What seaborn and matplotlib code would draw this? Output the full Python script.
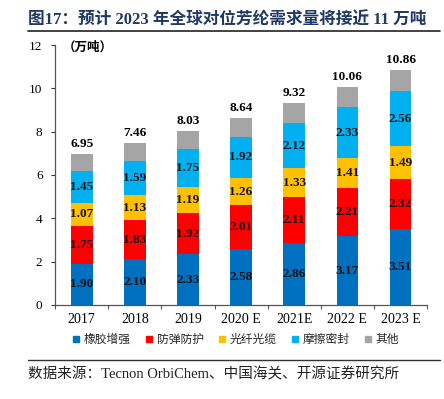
import numpy as np
import pandas as pd
import matplotlib.pyplot as plt
import seaborn as sns
from matplotlib.lines import Line2D
from matplotlib.ticker import FixedLocator

# ── Data ────────────────────────────────────────────────────────────────
years = ['2017', '2018', '2019', '2020 E', '2021E', '2022 E', '2023 E']
rubber = [1.90, 2.10, 2.33, 2.58, 2.86, 3.17, 3.51]      # 橡胶增强
armor = [1.75, 1.83, 1.92, 2.01, 2.11, 2.21, 2.32]       # 防弹防护
fiber = [1.07, 1.13, 1.19, 1.26, 1.33, 1.41, 1.49]       # 光纤光缆
friction = [1.45, 1.59, 1.75, 1.92, 2.12, 2.33, 2.56]    # 摩擦密封
other = [0.78, 0.81, 0.84, 0.87, 0.90, 0.94, 0.98]       # 其他
totals = [6.95, 7.46, 8.03, 8.64, 9.32, 10.06, 10.86]

series_names = ['橡胶增强', '防弹防护', '光纤光缆', '摩擦密封', '其他']
series_vals = [rubber, armor, fiber, friction, other]
COLORS = ['#0070C0', '#FF0000', '#FFC000', '#00B0F0', '#A5A5A5']

# ── Setup ───────────────────────────────────────────────────────────────
sns.set_theme(style='ticks')
plt.rcParams['font.family'] = ['Liberation Serif', 'Noto Sans CJK SC']
plt.rcParams['axes.unicode_minus'] = False

df = pd.DataFrame({'year': years})
for name, vals in zip(series_names, series_vals):
    df[name] = vals
cum = df[series_names].cumsum(axis=1)

fig = plt.figure(figsize=(4.44, 3.99), dpi=100)
ax = fig.add_axes([0.124, 0.236, 0.838, 0.651])

# stacked bars: draw cumulative heights from top layer down
for name, color in reversed(list(zip(series_names, COLORS))):
    sns.barplot(x=df['year'], y=cum[name], color=color, width=0.41,
                saturation=1, linewidth=0, ax=ax)

# segment labels
for i in range(len(years)):
    base = 0
    for name in series_names[:4]:
        v = df[name][i]
        ax.text(i, base + v / 2, f'{v:.2f}', ha='center', va='center',
                fontsize=9.5, fontweight='bold', color='#111111')
        base += v
    ax.annotate(f'{totals[i]:.2f}', (i, cum['其他'][i]), xytext=(0, 3),
                textcoords='offset points', ha='center', va='bottom',
                fontsize=9.5, fontweight='bold', color='black')

ax.set_ylim(0, 12)
ax.set_xlim(-0.5, len(years) - 0.5)
ax.set_yticks(range(0, 13, 2))
ax.set_xlabel('')
ax.set_ylabel('')
ax.tick_params(axis='y', labelsize=9.5, length=3, width=0.8, colors='#333333',
               labelcolor='black', pad=6)
ax.tick_params(axis='x', which='major', length=0, labelsize=10, pad=6,
               labelcolor='black')
ax.xaxis.set_minor_locator(FixedLocator(np.arange(-0.5, len(years), 1)))
ax.tick_params(axis='x', which='minor', length=3, width=0.8, colors='#555555',
               direction='out')
sns.despine(ax=ax)
for s in ['left', 'bottom']:
    ax.spines[s].set_color('#555555')
    ax.spines[s].set_linewidth(0.9)

ax.text(-0.36, 11.9, '（万吨）', ha='left', va='center', fontsize=9,
        fontweight='bold', color='black')

# legend
handles = [Line2D([0], [0], marker='s', linestyle='', markersize=5,
                  markerfacecolor=c, markeredgecolor=c) for c in COLORS]
fig.legend(handles, series_names, loc='center', ncol=5,
           bbox_to_anchor=(0.53, 0.148), frameon=False, fontsize=8.5,
           handletextpad=0.2, columnspacing=1.2, handlelength=0.8)

# title, rules and source
fig.text(28 / 444, 1 - 20 / 399, '图17：预计 2023 年全球对位芳纶需求量将接近 11 万吨',
         ha='left', va='center', fontsize=12, fontweight='bold', color='#1F3864')
fig.add_artist(Line2D([28 / 444, 440 / 444], [1 - 31 / 399] * 2,
                      color='#222222', linewidth=1.2))
fig.add_artist(Line2D([28 / 444, 440 / 444], [1 - 360 / 399] * 2,
                      color='#333333', linewidth=1.0))
fig.text(28 / 444, 1 - 374 / 399, '数据来源：Tecnon OrbiChem、中国海关、开源证券研究所',
         ha='left', va='center', fontsize=10.5, color='#222222')

plt.savefig('out.png', dpi=100)
plt.close()
